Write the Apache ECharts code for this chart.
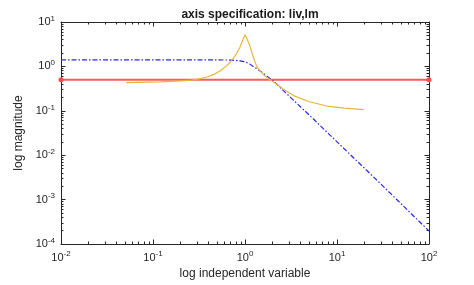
<!DOCTYPE html>
<html>
<head>
<meta charset="utf-8">
<script src="https://cdn.jsdelivr.net/npm/echarts@6/dist/echarts.min.js"></script>
<style>
  html, body { margin: 0; padding: 0; background: #fff; }
  #main { width: 474px; height: 285px; }
</style>
</head>
<body>
<div id="main"></div>
<script>
// data
var redX = [0.01, 100]
var redY = [0.5, 0.5]

var blueX = [0.01, 0.05, 0.2, 0.5, 0.7, 0.85, 1.0, 1.12, 1.23, 1.5, 2.03, 2.85, 5.1, 10, 30, 100]
var blueY = [1.4, 1.4, 1.4, 1.4, 1.39, 1.35, 1.27, 1.14, 1.0, 0.76, 0.47, 0.24, 0.077, 0.02, 0.00224, 0.000196]

var orangeX = [0.051, 0.12, 0.2, 0.26, 0.33, 0.38, 0.46, 0.54, 0.62, 0.69, 0.76, 0.81, 0.88, 0.94, 1.0, 1.05, 1.13, 1.2, 1.27, 1.34, 1.45, 1.58, 1.8, 2.03, 2.6, 3.36, 5, 7.8, 12, 19.5]
var orangeY = [0.43, 0.45, 0.47, 0.49, 0.53, 0.57, 0.66, 0.8, 1.0, 1.24, 1.6, 1.95, 2.7, 3.8, 5.2, 4.2, 2.9, 1.9, 1.35, 1.0, 0.8, 0.66, 0.53, 0.45, 0.31, 0.22, 0.16, 0.128, 0.115, 0.106]

var xMajor = [0.01, 0.1, 1, 10, 100]
var yMajor = [0.0001, 0.001, 0.01, 0.1, 1, 10]

function minors(lo, hi) {
  var out = []
  for (var d = lo; d < hi; d++) {
    for (var k = 2; k <= 9; k++) out.push(k * Math.pow(10, d))
  }
  return out
}
var xMinor = minors(-2, 2)
var yMinor = minors(-4, 1)

function pairs(xs, ys) {
  return xs.map(function (x, i) { return [x, ys[i]] })
}

var font = 'Liberation Sans, Arial, sans-serif'
var ink = '#262626'

function expLabel(v) {
  var e = Math.round(Math.log10(v))
  return '{b|10}{s|' + e + '}'
}
var rich = {
  b: { fontSize: 11, fontFamily: font, color: ink },
  s: { fontSize: 8, fontFamily: font, color: ink, padding: [0, 0, 7, 0] }
}

function logAxis(pos, min, max, major, minor, withLabels, isMinor) {
  return {
    type: 'log',
    logBase: 10,
    position: pos,
    min: min,
    max: max,
    splitLine: { show: false },
    axisLine: { show: !isMinor, lineStyle: { color: ink, width: 1 } },
    axisTick: {
      show: true,
      inside: true,
      length: isMinor ? 2.5 : 4.5,
      customValues: isMinor ? minor : major,
      lineStyle: { color: ink, width: 1 }
    },
    axisLabel: {
      show: withLabels,
      customValues: major,
      formatter: expLabel,
      rich: rich,
      margin: 6
    }
  }
}

var chart = echarts.init(document.getElementById('main'))

var xBottom = logAxis('bottom', 0.01, 100, xMajor, xMinor, true, false)
xBottom.name = 'log independent variable'
xBottom.nameLocation = 'middle'
xBottom.nameGap = 24
xBottom.nameTextStyle = { fontSize: 12, fontFamily: font, color: ink }

var yLeft = logAxis('left', 0.0001, 10, yMajor, yMinor, true, false)
yLeft.name = 'log magnitude'
yLeft.nameLocation = 'middle'
yLeft.nameGap = 29
yLeft.nameTextStyle = { fontSize: 12, fontFamily: font, color: ink }

var option = {
  animation: false,
  title: {
    text: 'axis specification: liv,lm',
    left: 245,
    top: 4,
    textAlign: 'center',
    textStyle: { fontSize: 12, fontWeight: 'bold', fontFamily: font, color: '#1a1a1a' }
  },
  grid: { left: 61, right: 45, top: 22, bottom: 35 },
  xAxis: [
    xBottom,
    logAxis('bottom', 0.01, 100, xMajor, xMinor, false, true),
    logAxis('top', 0.01, 100, xMajor, xMinor, false, false),
    logAxis('top', 0.01, 100, xMajor, xMinor, false, true)
  ],
  yAxis: [
    yLeft,
    logAxis('left', 0.0001, 10, yMajor, yMinor, false, true),
    logAxis('right', 0.0001, 10, yMajor, yMinor, false, false),
    logAxis('right', 0.0001, 10, yMajor, yMinor, false, true)
  ],
  series: [
    {
      name: 'red',
      type: 'line',
      data: pairs(redX, redY),
      clip: false,
      symbol: 'circle',
      symbolSize: 5,
      itemStyle: { color: '#ff4d4d' },
      lineStyle: { color: '#ff5a5a', width: 1.8 }
    },
    {
      name: 'blue',
      type: 'line',
      data: pairs(blueX, blueY),
      showSymbol: false,
      lineStyle: { color: '#2a2ae0', width: 1.2, type: [5, 2, 1.5, 2] }
    },
    {
      name: 'orange',
      type: 'line',
      data: pairs(orangeX, orangeY),
      showSymbol: false,
      lineStyle: { color: '#e8b53c', width: 1.2 }
    }
  ]
}
chart.setOption(option)
</script>
</body>
</html>
